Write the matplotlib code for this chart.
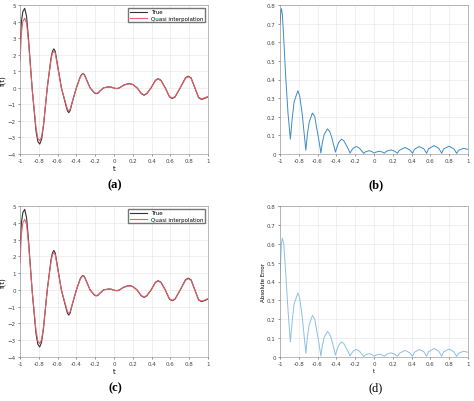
import numpy as np
import matplotlib
matplotlib.use("Agg")
import matplotlib.pyplot as plt

# f(t) samples (a)/(c)
T = [-1.0, -0.985, -0.97, -0.95, -0.93, -0.91, -0.87, -0.83, -0.81, -0.79, -0.77, -0.75,
     -0.71, -0.67, -0.655, -0.64, -0.625, -0.61, -0.56, -0.51, -0.495, -0.48, -0.465, -0.45,
     -0.40, -0.36, -0.345, -0.33, -0.315, -0.30, -0.255, -0.21, -0.195, -0.18, -0.165, -0.15,
     -0.11, -0.07, -0.05, -0.03, 0.0, 0.03, 0.06, 0.10, 0.14, 0.17, 0.20, 0.245, 0.29, 0.32,
     0.35, 0.395, 0.44, 0.47, 0.50, 0.545, 0.59, 0.62, 0.65, 0.705, 0.76, 0.79, 0.82, 0.86,
     0.90, 0.93, 0.96, 1.0]
F_TRUE = [2.4, 4.0, 4.6, 4.8, 4.3, 3.0, -0.1, -2.6, -3.25, -3.4, -3.1, -2.3,
          0.0, 1.8, 2.2, 2.35, 2.2, 1.7, 0.0, -1.1, -1.4, -1.5, -1.35, -1.0,
          0.0, 0.65, 0.8, 0.85, 0.8, 0.6, 0.0, -0.3, -0.35, -0.35, -0.3, -0.2,
          0.0, 0.04, 0.05, 0.04, -0.02, -0.05, 0.0, 0.15, 0.23, 0.25, 0.2, 0.0, -0.35, -0.45,
          -0.35, 0.0, 0.45, 0.55, 0.45, 0.0, -0.55, -0.65, -0.55, 0.0, 0.6, 0.7, 0.6, 0.0,
          -0.6, -0.7, -0.65, -0.55]
F_QUASI = [1.6, 3.3, 4.0, 4.2, 3.9, 2.8, -0.1, -2.4, -3.05, -3.2, -2.95, -2.2,
           0.0, 1.7, 2.1, 2.2, 2.1, 1.6, 0.0, -1.0, -1.3, -1.4, -1.28, -0.95,
           0.0, 0.62, 0.77, 0.82, 0.77, 0.58, 0.0, -0.28, -0.33, -0.33, -0.28, -0.19,
           0.0, 0.04, 0.05, 0.04, -0.02, -0.05, 0.0, 0.15, 0.22, 0.24, 0.19, 0.0, -0.33, -0.43,
           -0.33, 0.0, 0.43, 0.53, 0.43, 0.0, -0.53, -0.62, -0.53, 0.0, 0.57, 0.67, 0.57, 0.0,
           -0.57, -0.67, -0.62, -0.52]

# absolute error samples (b)/(d)
T_ERR = [-1.0, -0.99, -0.985, -0.975, -0.96, -0.94, -0.915, -0.89,
         -0.87, -0.85, -0.81, -0.79, -0.765, -0.745, -0.725,
         -0.71, -0.69, -0.655, -0.63, -0.61, -0.585, -0.565,
         -0.55, -0.53, -0.495, -0.47, -0.45, -0.43, -0.41,
         -0.395, -0.375, -0.345, -0.32, -0.30, -0.275, -0.255,
         -0.24, -0.22, -0.19, -0.165, -0.145, -0.125, -0.11,
         -0.09, -0.05, -0.02, 0.0,
         0.02, 0.06, 0.09, 0.11,
         0.13, 0.18, 0.22, 0.25,
         0.27, 0.33, 0.38, 0.41,
         0.43, 0.48, 0.53, 0.56,
         0.58, 0.64, 0.69, 0.72,
         0.74, 0.80, 0.85, 0.88,
         0.90, 0.95, 0.975, 1.0]
ERR_B = [0.70, 0.77, 0.78, 0.75, 0.62, 0.42, 0.22, 0.08,
         0.19, 0.28, 0.34, 0.31, 0.22, 0.12, 0.02,
         0.10, 0.17, 0.22, 0.20, 0.14, 0.07, 0.005,
         0.06, 0.105, 0.135, 0.12, 0.09, 0.05, 0.01,
         0.035, 0.063, 0.08, 0.07, 0.052, 0.028, 0.005,
         0.018, 0.032, 0.04, 0.035, 0.025, 0.013, 0.003,
         0.012, 0.018, 0.012, 0.005,
         0.010, 0.015, 0.010, 0.004,
         0.014, 0.022, 0.015, 0.004,
         0.020, 0.035, 0.022, 0.004,
         0.025, 0.040, 0.028, 0.004,
         0.028, 0.045, 0.030, 0.004,
         0.027, 0.042, 0.027, 0.003,
         0.020, 0.030, 0.028, 0.025]
ERR_D = [0.40, 0.55, 0.60, 0.63, 0.60, 0.45, 0.25] + ERR_B[7:]

W, H = 474, 402
fig = plt.figure(figsize=(W / 100, H / 100), dpi=100)


def make_ax(x0, x1, y0, y1):
    ax = fig.add_axes([x0 / W, 1 - y1 / H, (x1 - x0) / W, (y1 - y0) / H])
    ax.set_xlim(-1, 1)
    ax.set_xticks(np.arange(-1, 1.01, 0.2))
    ax.set_xticklabels(["-1", "-0.8", "-0.6", "-0.4", "-0.2", "0", "0.2", "0.4", "0.6", "0.8", "1"])
    ax.tick_params(labelsize=4, length=1.5, width=0.4, pad=1.5, colors="#444444")
    ax.grid(True, color="#e4e4e4", linewidth=0.4)
    for s in ax.spines.values():
        s.set_linewidth(0.4)
        s.set_color("#888888")
    ax.set_axisbelow(True)
    return ax


def func_panel(ax):
    ax.plot(T, F_TRUE, color="#333333", lw=0.8, label="True")
    ax.plot(T, F_QUASI, color="#e8606a", lw=0.8, label="Quasi interpolation")
    ax.set_ylim(-4, 5)
    ax.set_yticks(range(-4, 6))
    ax.set_xlabel("t", fontsize=5, labelpad=1)
    ax.set_ylabel("f(t)", fontsize=5, labelpad=1)
    ax.legend(loc="upper right", fontsize=4, frameon=True, fancybox=False,
              edgecolor="#555555", borderpad=0.3, handlelength=3, labelspacing=0.2)


def err_panel(ax, err, color):
    ax.plot(T_ERR, err, color=color, lw=0.7)
    ax.set_ylim(0, 0.8)
    ax.set_yticks(np.arange(0, 0.81, 0.1))
    ax.set_yticklabels(["0", "0.1", "0.2", "0.3", "0.4", "0.5", "0.6", "0.7", "0.8"])


ax_a = make_ax(20, 208, 6, 155)
func_panel(ax_a)
ax_b = make_ax(280, 468, 6, 155)
err_panel(ax_b, ERR_B, "#3a8cc8")
ax_c = make_ax(20, 208, 207, 358)
func_panel(ax_c)
ax_d = make_ax(280, 468, 207, 358)
err_panel(ax_d, ERR_D, "#8cc0e4")
ax_d.set_xlabel("t", fontsize=4, labelpad=1)
ax_d.set_ylabel("Absolute Error", fontsize=4, labelpad=1)

for lab, x, y, wt in [("(a)", 115, 185, "bold"), ("(b)", 376, 185, "bold"),
                      ("(c)", 115, 388, "bold"), ("(d)", 376, 388, "normal")]:
    fig.text(x / W, 1 - y / H, lab, ha="center", va="center", fontsize=9,
             family="Liberation Serif", weight=wt)

fig.savefig("out.png", dpi=100)
